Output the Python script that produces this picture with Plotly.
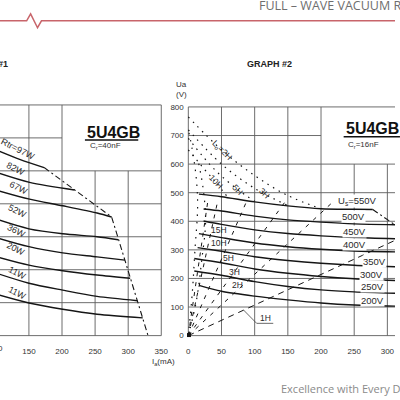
import plotly.graph_objects as go

W = H = 400
def px(x): return x / W
def py(y): return 1 - y / H

# ---------------- Graph #1 data (left) ----------------
left_labels = ["Rtr=97W", "82W", "67W", "52W", "36W", "20W", "11W", "11W"]
left_I = [
    [100, 136, 173],
    [100, 151, 219],
    [100, 151, 201, 253, 275],
    [100, 150, 201, 253, 285],
    [100, 150, 201, 253, 295],
    [100, 150, 201, 253, 303],
    [100, 150, 201, 253, 314],
    [100, 150, 201, 253, 322],
]
left_V = [
    [564, 535, 510],
    [496, 465, 442],
    [442, 414, 394, 372, 360],
    [354, 324, 309, 300, 291],
    [298, 270, 251, 239, 229],
    [240, 214, 197, 184, 174],
    [190, 159, 138, 119, 106],
    [126, 99, 80, 65, 54],
]
left_bound_I = [173, 275, 330]
left_bound_V = [510, 360, 0]
left_xticks = [150, 200, 250, 300, 350]
left_ygrid = [0, 100, 200, 300, 400, 500, 600, 700]

# ---------------- Graph #2 data (right) ----------------
us_labels = ["U<sub>s</sub>=550V", "500V", "450V", "400V", "350V", "300V", "250V", "200V"]
us_I = [
    [16, 50, 100, 150, 200, 250, 278],
    [23, 50, 100, 150, 200, 250, 312],
    [23, 50, 100, 150, 200, 250, 312],
    [16, 50, 100, 150, 200, 250, 312],
    [14, 50, 100, 150, 200, 250, 312],
    [9, 50, 100, 150, 200, 250, 312],
    [9, 50, 100, 150, 200, 250, 312],
    [16, 50, 100, 150, 200, 250, 312],
]
us_V = [
    [495, 486, 468, 454, 444, 442, 441],
    [443, 436, 418, 405, 397, 391, 388],
    [401, 389, 370, 357, 349, 343, 339],
    [357, 343, 324, 311, 302, 296, 293],
    [308, 295, 276, 263, 253, 246, 241],
    [270, 255, 233, 218, 207, 199, 193],
    [226, 211, 189, 172, 160, 153, 148],
    [176, 155, 138, 125, 114, 107, 103],
]
right_bound_I = [278, 313]
right_bound_V = [441, 385]

ind_labels = ["1H", "2H", "3H", "5H", "10H", "15H"]
ind_end_I = [330, 219, 148, 89, 45, 30]
ind_end_V = [353, 470, 475, 476, 478, 480]

lo_labels = ["2H", "3H", "5H", "10H"]
lo_I = [
    [0, 50, 100, 150, 200],
    [0, 50, 100, 150],
    [0, 40, 75, 100],
    [0, 25, 42, 60],
]
lo_V = [
    [765, 650, 560, 490, 444],
    [720, 600, 515, 455],
    [690, 580, 510, 470],
    [650, 580, 535, 482],
]
extra_dot_I = [[0, 6, 10, 14, 12, 6, 0], [0, 12, 20, 26, 22, 14]]
extra_dot_V = [[0, 150, 300, 450, 550, 650, 720], [0, 120, 260, 400, 520, 620]]

right_xticks = [0, 50, 100, 150, 200, 250, 300]
right_yticks = [0, 100, 200, 300, 400, 500, 600, 700, 800]

GRID = "#5c5c5c"
INK = "#151515"
TXT = "#2a2a2a"
FONT = "Liberation Sans, Arial, sans-serif"

fig = go.Figure()

def seg_trace(segs, xa, ya, color=GRID, width=0.9, dash=None):
    xs, ys = [], []
    for (x0, y0, x1, y1) in segs:
        xs += [x0, x1, None]
        ys += [y0, y1, None]
    fig.add_trace(go.Scatter(x=xs, y=ys, mode="lines", xaxis=xa, yaxis=ya,
                             line=dict(color=color, width=width, dash=dash),
                             hoverinfo="skip", showlegend=False))

# left grid
lsegs = []
for g in left_xticks:
    top = 700 if g in (150, 200, 350) else 500
    lsegs.append((g, 0, g, top))
for v in left_ygrid:
    right = 200 if v == 600 else 350
    lsegs.append((100, v, right, v))
seg_trace(lsegs, "x", "y")

# right grid
rsegs = []
for g in right_xticks:
    top = 600 if g >= 250 else 800
    rsegs.append((g, 0, g, top))
for v in right_yticks:
    right = 200 if v == 700 else 330
    rsegs.append((0, v, right, v))
seg_trace(rsegs, "x2", "y2")

# left curves
for I, V in zip(left_I, left_V):
    fig.add_trace(go.Scatter(x=I, y=V, mode="lines", xaxis="x", yaxis="y",
                             line=dict(color=INK, width=1.4, shape="spline", smoothing=0.8),
                             hoverinfo="skip", showlegend=False))
fig.add_trace(go.Scatter(x=left_bound_I, y=left_bound_V, mode="lines", xaxis="x", yaxis="y",
                         line=dict(color=INK, width=1.1, dash="6px,3px,2px,3px"),
                         hoverinfo="skip", showlegend=False))

# right: dotted Lo lines
for I, V in zip(lo_I, lo_V):
    fig.add_trace(go.Scatter(x=I, y=V, mode="lines", xaxis="x2", yaxis="y2",
                             line=dict(color=INK, width=1.2, dash="1.5px,5px", shape="spline"),
                             hoverinfo="skip", showlegend=False))
for I, V in zip(extra_dot_I, extra_dot_V):
    fig.add_trace(go.Scatter(x=I, y=V, mode="lines", xaxis="x2", yaxis="y2",
                             line=dict(color=INK, width=1.2, dash="1.5px,6px", shape="spline"),
                             hoverinfo="skip", showlegend=False))
# right: dashed inductance lines
for i, (ei, ev) in enumerate(zip(ind_end_I, ind_end_V)):
    fig.add_trace(go.Scatter(x=[0, ei], y=[0, ev], mode="lines", xaxis="x2", yaxis="y2",
                             line=dict(color=INK, width=1.0, dash="6px,5px" if i == 0 else "4px,6px"),
                             hoverinfo="skip", showlegend=False))
# 1H leader
fig.add_trace(go.Scatter(x=[83, 103, 128], y=[90, 43, 43], mode="lines", xaxis="x2", yaxis="y2",
                         line=dict(color="#444", width=0.8), hoverinfo="skip", showlegend=False))
# right Us curves
for I, V in zip(us_I, us_V):
    fig.add_trace(go.Scatter(x=I, y=V, mode="lines", xaxis="x2", yaxis="y2",
                             line=dict(color=INK, width=1.4, shape="spline", smoothing=0.8),
                             hoverinfo="skip", showlegend=False))
fig.add_trace(go.Scatter(x=right_bound_I, y=right_bound_V, mode="lines", xaxis="x2", yaxis="y2",
                         line=dict(color=INK, width=1.1, dash="6px,3px,2px,3px"),
                         hoverinfo="skip", showlegend=False))
fig.add_trace(go.Scatter(x=[1], y=[2], mode="markers", xaxis="x2", yaxis="y2",
                         marker=dict(symbol="square", size=4, color=INK),
                         hoverinfo="skip", showlegend=False, cliponaxis=False))

tickfont = dict(family=FONT, size=8, color="#333")
fig.update_layout(
    width=W, height=H, margin=dict(l=0, r=0, t=0, b=0),
    paper_bgcolor="white", plot_bgcolor="white", showlegend=False,
    xaxis=dict(domain=[0, px(166)], range=[106.3, 354], tickvals=left_xticks,
               showgrid=False, zeroline=False, showline=False,
               ticks="outside", ticklen=6, tickcolor="rgba(0,0,0,0)", tickfont=tickfont),
    yaxis=dict(domain=[py(340), py(103)], range=[-6, 706], showgrid=False, zeroline=False,
               showline=False, showticklabels=False),
    xaxis2=dict(domain=[px(188.7), 1], range=[-2.98, 311.5], tickvals=right_xticks,
                anchor="y2", showgrid=False, zeroline=False, showline=False,
                ticks="outside", ticklen=6, tickcolor="rgba(0,0,0,0)", tickfont=tickfont),
    yaxis2=dict(domain=[py(340), py(104)], range=[-6.93, 810.4], tickvals=right_yticks,
                anchor="x2", showgrid=False, zeroline=False, showline=False,
                ticks="outside", ticklen=0, tickcolor="rgba(0,0,0,0)", tickfont=tickfont),
)

ann = []
def A(text, x, y, size=9, color=TXT, xanchor="center", yanchor="middle", angle=0, bold=False,
      family=FONT, bg=None):
    d = dict(text=("<b>%s</b>" % text) if bold else text, x=px(x), y=py(y), xref="paper", yref="paper",
             showarrow=False, xanchor=xanchor, yanchor=yanchor, textangle=angle,
             font=dict(family=family, size=size, color=color))
    if bg:
        d["bgcolor"] = bg
        d["borderpad"] = 0
    ann.append(d)

# header / footer
A("FULL – WAVE VACUUM RECTIFIER", 260, 5, size=12.5, color="#6e6e6e", xanchor="left",
  family="Open Sans, sans-serif")
A("Excellence with Every Detail", 283, 391, size=11, color="#8a8a8a", xanchor="left",
  family="Open Sans, sans-serif")
A("GRAPH #1", 10, 64, size=9, bold=True, xanchor="right", color="#222")
A("GRAPH #2", 272.5, 64, size=9, bold=True, color="#222")

# left graph texts
A("100", -4, 351, size=8, color="#333")
A("I<sub>a</sub>(mA)", 165.5, 365, size=8, color="#333")
left_lab_pos = [(18, 149), (16, 170), (19, 189), (17.5, 212), (17, 232), (16, 251), (17.5, 275), (17.5, 295)]
for t, (x, y) in zip(left_labels, left_lab_pos):
    A(t, x, y, size=9, angle=27)
A("5U4GB", 86, 132.5, size=16, bold=True, xanchor="left", color="#111")
A("C<sub>r</sub>=40nF", 89, 146.5, size=8, xanchor="left", color="#333")

# right graph texts
A("Ua", 176, 84, size=8, xanchor="left", color="#333")
A("(V)", 176, 94, size=8, xanchor="left", color="#333")
A("5U4GB", 348, 129, size=16, bold=True, xanchor="left", color="#111")
A("C<sub>r</sub>=16nF", 350, 145, size=8, xanchor="left", color="#333")
us_lab_pos = [(362.5, 202.5), (358, 218), (358.5, 232.5), (358.5, 246), (379, 263.3), (376.3, 276),
              (377, 288.3), (377, 302.5)]
for t, (x, y) in zip(us_labels, us_lab_pos):
    A(t, x, y, size=9.5, bg="white")
ind_lab_pos = [(269, 320.7), (241, 286.7), (237.5, 273.5), (231.5, 260), (221.5, 244.5), (222, 231.5)]
for t, (x, y) in zip(ind_labels, ind_lab_pos):
    A(t, x, y, size=8.5)
lo_lab_pos = [(225, 151), (267.5, 194), (241, 191), (219, 183)]
lo_texts = ["L<sub>o</sub>=2H", "3H", "5H", "10H"]
for t, (x, y) in zip(lo_texts, lo_lab_pos):
    A(t, x, y, size=8.5, angle=45)

fig.update_layout(annotations=ann)

# shapes: header red line with pulse, underlines
shapes = [
    dict(type="path", xref="paper", yref="paper", layer="above",
         path="M 0 %f L %f %f L %f %f L %f %f L %f %f L 1 %f" % (
             py(20), px(27), py(20), px(31), py(13), px(38), py(27), px(42), py(20), py(20)),
         line=dict(color="#c8646a", width=1.5)),
    dict(type="line", xref="paper", yref="paper", x0=px(86), x1=px(140), y0=py(140.5), y1=py(140.5),
         line=dict(color="#111", width=1.5)),
    dict(type="line", xref="paper", yref="paper", x0=px(348), x1=px(405), y0=py(137), y1=py(137),
         line=dict(color="#111", width=1.5)),
]
fig.update_layout(shapes=shapes)

fig.write_html("out.html")
